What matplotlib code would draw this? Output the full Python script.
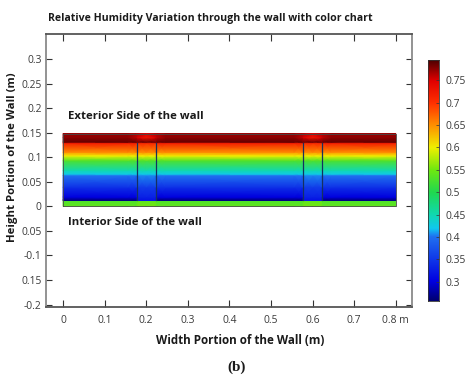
import numpy as np
from matplotlib import pyplot as plt
from matplotlib.colors import LinearSegmentedColormap, Normalize

plt.rcParams['font.family'] = ['Open Sans', 'DejaVu Sans']

# heights through the wall (m) and relative humidity read at each height
heights = [0, 0.0119, 0.012, 0.014, 0.019, 0.039, 0.063, 0.066, 0.073, 0.093, 0.103, 0.110, 0.129, 0.131, 0.140, 0.1483]
rh_wall = [0.54, 0.53, 0.262, 0.27, 0.30, 0.345, 0.40, 0.425, 0.45, 0.53, 0.60, 0.65, 0.72, 0.788, 0.775, 0.77]
rh_edge = [0.54, 0.53, 0.262, 0.27, 0.30, 0.345, 0.40, 0.425, 0.45, 0.53, 0.60, 0.65, 0.72, 0.788, 0.76, 0.765]
rh_stud = [0.55, 0.54, 0.32, 0.32, 0.33, 0.355, 0.405, 0.425, 0.45, 0.53, 0.60, 0.65, 0.71, 0.785, 0.75, 0.765]
rh_peak = [0.55, 0.54, 0.32, 0.32, 0.33, 0.355, 0.405, 0.425, 0.45, 0.53, 0.60, 0.65, 0.71, 0.785, 0.725, 0.75]

widths = [0, 0.155, 0.176, 0.18, 0.2, 0.222, 0.226, 0.247,
	0.555, 0.575, 0.579, 0.6, 0.621, 0.625, 0.645, 0.8]
columns = [rh_wall, rh_wall, rh_edge, rh_stud, rh_peak, rh_stud, rh_edge, rh_wall,
	rh_wall, rh_edge, rh_stud, rh_peak, rh_stud, rh_edge, rh_wall, rh_wall]
stud_edges = [0.178, 0.224, 0.577, 0.623]

xticks = [0, 0.1, 0.2, 0.3, 0.4, 0.5, 0.6, 0.7, 0.8]
xlabels = ['0', '0.1', '0.2', '0.3', '0.4', '0.5', '0.6', '0.7', '0.8 m']
yticks = [-0.2, -0.15, -0.1, -0.05, 0, 0.05, 0.1, 0.15, 0.2, 0.25, 0.3]
ylabels = ['-0.2', '0.15', '-0.1', '0.05', '0', '0.05', '0.1', '0.15', '0.2', '0.25', '0.3']
cbar_ticks = [0.3, 0.35, 0.4, 0.45, 0.5, 0.55, 0.6, 0.65, 0.7, 0.75]

cmap = LinearSegmentedColormap.from_list('rainbow_comsol', [
	(0.0, '#000070'), (0.08, '#0000e0'), (0.266, '#2070f0'), (0.30, '#10c8f0'),
	(0.358, '#10d8b0'), (0.45, '#20d850'), (0.545, '#70e810'), (0.637, '#f0f000'),
	(0.73, '#ff9000'), (0.823, '#ff3000'), (0.916, '#e00000'), (1.0, '#500000')])
norm = Normalize(0.257, 0.795)

W, H = 474, 381
fig = plt.figure(figsize=(W/100, H/100), dpi=100)
ax = fig.add_axes([46/W, 1-307/H, 366/W, 273/H])

field = np.array(columns).T
ax.pcolormesh(widths, heights, field, shading='gouraud', cmap=cmap, norm=norm)
ax.plot([0, 0.8, 0.8, 0, 0], [0, 0, 0.1483, 0.1483, 0], color='#4a4a4a', linewidth=0.6)
for sx in stud_edges:
	ax.plot([sx, sx], [0.013, 0.13], color='#153060', linewidth=0.9)

ax.set_xlim(-0.041, 0.839)
ax.set_ylim(-0.205, 0.351)
ax.set_xticks(xticks)
ax.set_xticklabels(xlabels)
ax.set_yticks(yticks)
ax.set_yticklabels(ylabels)
ax.tick_params(top=True, right=True, direction='in', width=0.8, color='#333333',
	labelsize=7.4, labelcolor='#3a3a3a')
ax.tick_params(axis='x', length=5, pad=6)
ax.tick_params(axis='y', length=4, pad=3)
for side, col in [('top', '#555555'), ('bottom', '#555555'), ('left', '#8a8a8a'), ('right', '#8a8a8a')]:
	ax.spines[side].set_color(col)
	ax.spines[side].set_linewidth(1.3)

ax.text(0.012, 0.182, 'Exterior Side of the wall', fontsize=8.2, fontweight='bold', color='#1a1a1a', va='center')
ax.text(0.012, -0.033, 'Interior Side of the wall', fontsize=8.2, fontweight='bold', color='#1a1a1a', va='center')

fig.text(48/W, 1-18/H, 'Relative Humidity Variation through the wall with color chart',
	fontsize=7.55, fontweight='bold', color='#1a1a1a', va='center')
fig.text(13/W, 1-157/H, 'Height Portion of the Wall (m)', fontsize=8.2, fontweight='bold',
	rotation=90, va='center', ha='center', color='#1a1a1a')
fig.text(240/W, 1-341/H, 'Width Portion of the Wall (m)', fontsize=8.35, fontweight='bold',
	va='center', ha='center', color='#1a1a1a')
fig.text(237/W, 1-367/H, '(b)', fontsize=11, fontweight='bold', family='Liberation Serif',
	va='center', ha='center', color='#1a1a1a')

cax = fig.add_axes([428/W, 1-301/H, 11/W, 241/H])
gradient = np.linspace(norm.vmin, norm.vmax, 256).reshape(-1, 1)
cax.imshow(gradient, origin='lower', aspect='auto', cmap=cmap, norm=norm,
	extent=[0, 1, norm.vmin, norm.vmax])
cax.set_xticks([])
cax.yaxis.tick_right()
cax.set_yticks(cbar_ticks)
cax.set_yticklabels(['%g' % t for t in cbar_ticks])
cax.tick_params(axis='y', direction='in', length=2, width=0.5, color='#333333',
	labelsize=7.4, labelcolor='#3a3a3a', pad=5)
for s in cax.spines.values():
	s.set_color('#333333')
	s.set_linewidth(0.6)

plt.savefig('out.png', dpi=100)
